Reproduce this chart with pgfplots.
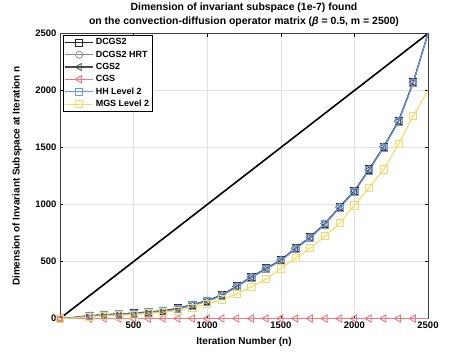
\documentclass[border=0pt]{standalone}
\usepackage{pgfplots}
\pgfplotsset{compat=1.18}
\usepackage{pgfplotstable}
\usepackage{fontspec}
\setmainfont{Liberation Sans}
\definecolor{cDC}{rgb}{0.15,0.15,0.15}
\definecolor{cHRT}{rgb}{0.55,0.55,0.55}
\definecolor{cCG2}{rgb}{0.3,0.3,0.3}
\definecolor{cCGS}{rgb}{0.92,0.47,0.52}
\definecolor{cHH}{rgb}{0.40,0.60,0.92}
\definecolor{cMGS}{rgb}{0.96,0.86,0.40}
\definecolor{cgrid}{rgb}{0.88,0.88,0.88}

\pgfplotstableread{
x    hh    dc    mgs   cgs
0    0     0     0     0
100  8     10    5     0
200  22    25    15    0
300  29    32    22    0
400  36    40    28    0
500  42    46    35    0
600  53    57    45    0
700  62    67    55    0
800  82    88    70    0
900  115   121   95    0
1000 150   156   125   0
1100 200   206   168   0
1200 275   282   213   0
1300 358   365   280   0
1400 432   439   345   0
1500 505   512   440   0
1600 610   617   530   0
1700 705   712   617   0
1800 825   832   722   0
1900 972   979   836   0
2000 1110  1118  992   0
2100 1300  1308  1147  0
2200 1500  1508  1308  0
2300 1725  1733  1532  0
2400 2065  2073  1777  0
2500 2500  2500  2000  0
}\datatable

\pgfplotstableread{
x    y
0    0
2500 2500
}\diagtable

\begin{document}
\begin{tikzpicture}
\begin{axis}[
  scale only axis,
  width=368bp, height=285bp,
  xmin=0, xmax=2500, ymin=0, ymax=2500,
  xtick={500,1000,1500,2000,2500},
  ytick={0,500,1000,1500,2000,2500},
  tick align=inside,
  major tick length=3bp,
  tick style={black, line width=0.4bp},
  axis line style={black!75, line width=0.5bp},
  grid=major,
  grid style={cgrid, line width=0.4bp},
  font=\bfseries\fontsize{9.5}{11}\selectfont,
  ticklabel style={font=\bfseries\fontsize{9.5}{11}\selectfont},
  /pgf/number format/assume math mode=true,
  /pgf/number format/1000 sep={},
  title={Dimension of invariant subspace (1e-7) found\\on the convection-diffusion operator matrix (\textit{β} = 0.5, m = 2500)},
  title style={align=center, font=\bfseries\fontsize{10.5}{14}\selectfont, yshift=-3bp},
  xlabel={Iteration Number (n)},
  ylabel={Dimension of Invariant Subspace at Iteration n},
  xlabel style={font=\bfseries\fontsize{10}{12}\selectfont, yshift=-2bp},
  ylabel style={font=\bfseries\fontsize{10}{12}\selectfont, yshift=7bp},
  legend style={at={(0.008,0.995)}, anchor=north west, draw=black, line width=0.5bp,
    font=\bfseries\fontsize{9}{10}\selectfont, row sep=0.5bp, inner sep=1.5bp,
    cells={anchor=west}},
  legend image code/.code={
    \draw[#1, mark=none] (0bp,0bp) -- (28bp,0bp);
    \draw[#1, draw=none] plot coordinates {(14bp,0bp)};},
  every axis plot/.append style={line width=1.1bp},
  mark indices={1,3,4,5,6,7,8,9,10,11,12,13,14,15,16,17,18,19,20,21,22,23,24,25},
]
\addplot[black, line width=1.6bp, forget plot] table[x=x,y=y] {\diagtable};
\addplot[cDC, mark=square, mark size=3.6bp, mark options={solid, line width=0.8bp}] table[x=x,y=dc] {\datatable};
\addlegendentry{DCGS2}
\addplot[cHRT, mark=o, mark size=3.6bp, mark options={solid, line width=0.8bp}] table[x=x,y=dc] {\datatable};
\addlegendentry{DCGS2 HRT}
\addplot[cCG2, mark=triangle, mark size=4bp, mark options={solid, rotate=90, line width=0.8bp}] table[x=x,y=dc] {\datatable};
\addlegendentry{CGS2}
\addplot[cCGS, mark=triangle, mark size=4.2bp, mark options={solid, rotate=90, line width=0.9bp}] table[x=x,y=cgs] {\datatable};
\addlegendentry{CGS}
\addplot[cHH, mark=square, mark size=3.6bp, mark options={solid, line width=0.8bp}] table[x=x,y=hh] {\datatable};
\addlegendentry{HH Level 2}
\addplot[cMGS, mark=square, mark size=3.6bp, mark options={solid, line width=0.8bp}] table[x=x,y=mgs] {\datatable};
\addlegendentry{MGS Level 2}
\end{axis}
\path (current axis.south west)++(-60bp,-39bp) coordinate (bbA);
\path (current axis.north east)++(46bp,31bp) coordinate (bbB);
\path (bbA) rectangle (bbB);
\end{tikzpicture}
\end{document}
